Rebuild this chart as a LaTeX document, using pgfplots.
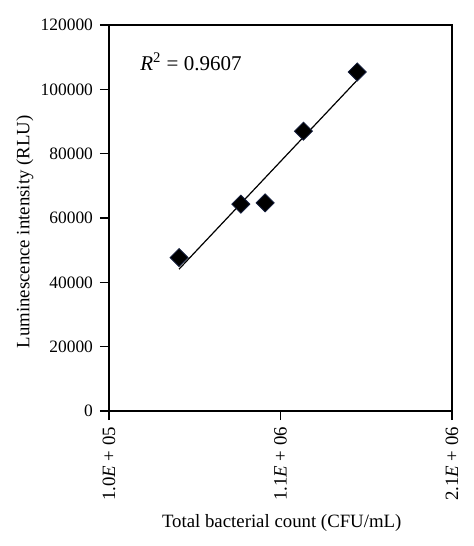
\documentclass[border=0pt]{standalone}
\usepackage{pgfplots}
\pgfplotsset{compat=1.18}
\usepackage{fontspec}
\setmainfont{Liberation Serif}
\begin{document}
\begin{tikzpicture}
\path[use as bounding box] (-54.5pt,-67.5pt) rectangle (182.5pt,205.5pt);
\begin{axis}[
  at={(0,0)}, anchor=south west,
  scale only axis,
  width=171.5pt, height=193pt,
  xmin=100000, xmax=2100000,
  ymin=0, ymax=120000,
  xtick={100000,1100000,2100000},
  xticklabels={1.0\textit{E} + 05, 1.1\textit{E} + 06, 2.1\textit{E} + 06},
  ytick={0,20000,40000,60000,80000,100000,120000},
  scaled y ticks=false, scaled x ticks=false,
  yticklabel style={/pgf/number format/fixed, /pgf/number format/1000 sep={}, font=\fontsize{8.7}{10}\selectfont},
  /pgf/number format/assume math mode=true,
  xticklabel style={rotate=90, anchor=east, font=\fontsize{9.4}{11}\selectfont},
  tick align=outside,
  xtick pos=bottom, ytick pos=left,
  major tick length=4.5pt,
  axis line style={line width=0.8pt},
  every tick/.style={black, line width=0.8pt},
  font=\fontsize{9.4}{11}\selectfont,
  xlabel={Total bacterial count (CFU/mL)},
  ylabel={Luminescence intensity (RLU)},
  xlabel style={at={(axis description cs:0.5035,-0.291)}, anchor=center},
  ylabel style={at={(axis description cs:-0.245,0.464)}, anchor=center, rotate=0},
  clip=false,
]
\addplot[black, line width=0.6pt, no marks] coordinates {
  (508500,44110) (1547300,102870)
};
\addplot[only marks, mark=square*, mark size=3.2pt,
  mark options={rotate=45, fill=black, draw={rgb,255:red,20;green,30;blue,60}, line width=0.4pt}] coordinates {
  (508500,47700)
  (868600,64300)
  (1010400,64700)
  (1234000,87000)
  (1547300,105400)
};
\node[anchor=west, inner sep=0pt, font=\fontsize{10.5}{12}\selectfont] at (rel axis cs:0.09,0.904) {\textit{R}\textsuperscript{2} = 0.9607};
\end{axis}
\end{tikzpicture}
\end{document}
